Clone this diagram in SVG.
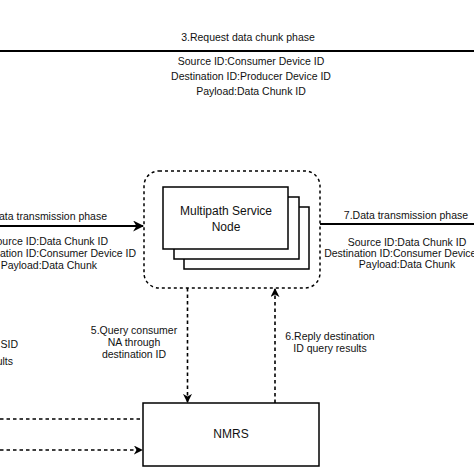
<svg xmlns="http://www.w3.org/2000/svg" width="474" height="474" viewBox="0 0 474 474">
<style>
text{font-family:"Liberation Sans",Arial,sans-serif;fill:#111}
.s{font-size:10.5px}
.n{font-size:12px}
.m{text-anchor:middle}
.e{text-anchor:end}
.solid{stroke:#000;stroke-width:2;fill:none}
.dash{stroke:#000;stroke-width:1.6;stroke-dasharray:3.5,3;fill:none}
.box{fill:#fff;stroke:#000;stroke-width:1.5}
</style>
<defs>
<marker id="ah" viewBox="0 0 10 10" refX="9" refY="5" markerWidth="9" markerHeight="9" markerUnits="userSpaceOnUse" orient="auto">
<path d="M0,0 L10,5 L0,10 L3,5 z" fill="#000"/>
</marker>
<marker id="ah2" viewBox="0 0 10 10" refX="9" refY="5" markerWidth="11" markerHeight="11" markerUnits="userSpaceOnUse" orient="auto">
<path d="M0,0 L10,5 L0,10 L3,5 z" fill="#000"/>
</marker>
</defs>
<rect width="474" height="474" fill="#fff"/>

<g id="connectors">
<line class="solid" x1="0" y1="51" x2="474" y2="51"/>
<line class="solid" x1="0" y1="226" x2="143" y2="226" marker-end="url(#ah2)"/>
<line class="solid" x1="320" y1="224" x2="474" y2="224"/>
<line class="dash" x1="187.5" y1="288" x2="187.5" y2="402" marker-end="url(#ah)"/>
<line class="dash" x1="275" y1="403" x2="275" y2="289" marker-end="url(#ah)"/>
<line class="dash" x1="0" y1="419" x2="143" y2="419"/>
<line class="dash" x1="0" y1="450" x2="142" y2="450" marker-end="url(#ah)"/>
</g>

<g id="label-request">
<text class="s m" x="248" y="41">3.Request data chunk phase</text>
<text class="s m" x="251" y="65">Source ID:Consumer Device ID</text>
<text class="s m" x="251" y="80">Destination ID:Producer Device ID</text>
<text class="s m" x="251" y="95">Payload:Data Chunk ID</text>
</g>

<g id="label-left-transmission">
<text class="s e" x="107" y="220">Data transmission phase</text>
<text class="s e" x="108" y="245">Source ID:Data Chunk ID</text>
<text class="s e" x="136" y="257">Destination ID:Consumer Device ID</text>
<text class="s e" x="97" y="269">Payload:Data Chunk</text>
</g>

<g id="label-right-transmission">
<text class="s m" x="406" y="219">7.Data transmission phase</text>
<text class="s m" x="407" y="246">Source ID:Data Chunk ID</text>
<text class="s m" x="407" y="257">Destination ID:Consumer Device ID</text>
<text class="s m" x="407" y="268">Payload:Data Chunk</text>
</g>

<g id="label-left-partial">
<text class="s e" x="18" y="348">SID</text>
<text class="s e" x="13" y="365">results</text>
</g>

<g id="label-query">
<text class="s m" x="134" y="334">5.Query consumer</text>
<text class="s m" x="134" y="346">NA through</text>
<text class="s m" x="134" y="358">destination ID</text>
</g>

<g id="label-reply">
<text class="s m" x="330" y="340">6.Reply destination</text>
<text class="s m" x="330" y="352">ID query results</text>
</g>

<g id="msn-group">
<rect x="144" y="171" width="176" height="117" rx="15" ry="15" fill="none" stroke="#000" stroke-width="1.5" stroke-dasharray="3,3"/>
</g>

<g id="msn">
<rect class="box" x="184" y="207" width="125" height="62"/>
<rect class="box" x="174" y="197" width="125" height="62"/>
<rect class="box" x="163" y="187" width="125" height="62"/>
<text class="n m" x="226" y="215">Multipath Service</text>
<text class="n m" x="226" y="231">Node</text>
</g>

<g id="nmrs">
<rect class="box" x="143" y="403" width="176" height="63"/>
<text class="n m" x="231" y="438">NMRS</text>
</g>
</svg>
